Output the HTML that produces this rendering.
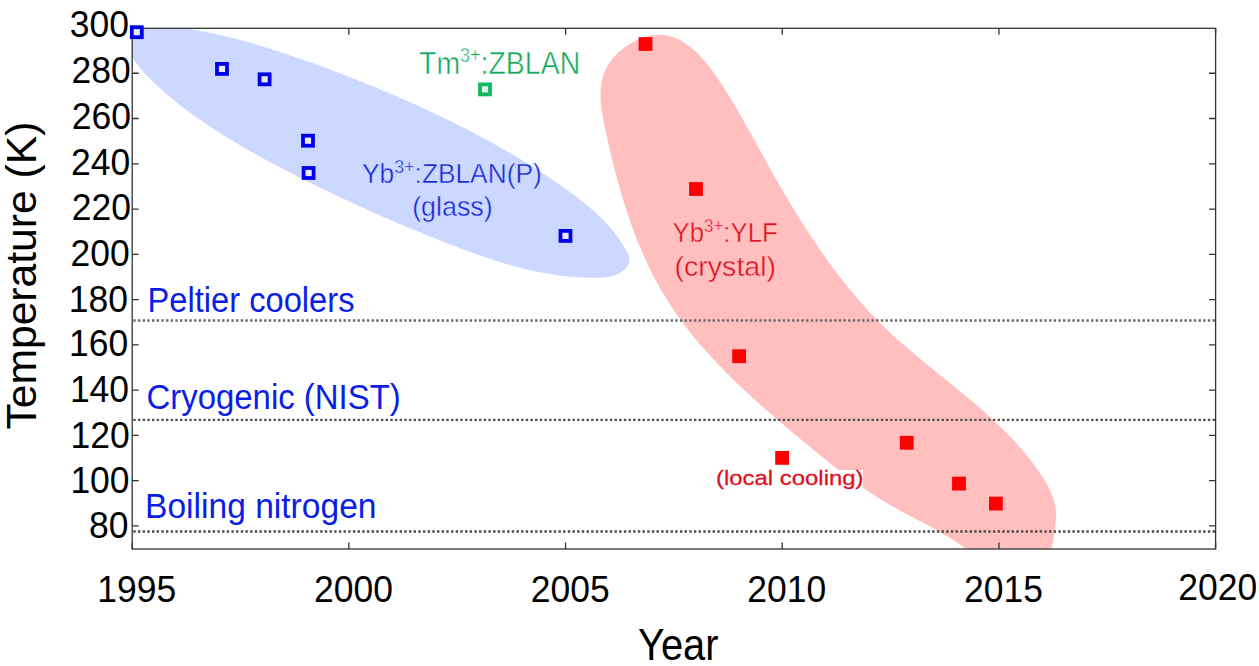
<!DOCTYPE html>
<html><head><meta charset="utf-8"><style>
html,body{margin:0;padding:0;background:#fff;}
svg{display:block;}
text{font-family:"Liberation Sans",sans-serif;}
.tk{font-size:37.3px;fill:#000;}
</style></head><body>
<svg width="1259" height="666" viewBox="0 0 1259 666">
<defs><clipPath id="ax"><rect x="132.2" y="28.3" width="1083.4" height="520.7"/></clipPath></defs>
<g clip-path="url(#ax)">
<path d="M148.7,25.0 L151.7,25.1 L154.8,25.3 L157.8,25.5 L160.9,25.8 L163.9,26.0 L166.9,26.3 L169.9,26.6 L172.9,26.9 L175.9,27.3 L178.8,27.6 L181.8,28.0 L184.7,28.4 L187.7,28.8 L190.6,29.3 L193.5,29.8 L196.4,30.3 L199.4,30.8 L202.2,31.3 L205.1,31.8 L208.0,32.4 L210.9,33.0 L213.7,33.6 L216.6,34.2 L219.5,34.8 L222.3,35.5 L225.1,36.2 L228.0,36.8 L230.8,37.5 L233.6,38.2 L236.4,39.0 L239.2,39.7 L242.0,40.5 L244.8,41.2 L247.6,42.0 L250.4,42.8 L253.2,43.6 L256.0,44.4 L258.7,45.2 L261.5,46.1 L264.3,46.9 L267.0,47.8 L269.8,48.7 L272.6,49.5 L275.3,50.4 L278.1,51.3 L280.8,52.2 L283.6,53.1 L286.3,54.1 L289.1,55.0 L291.8,55.9 L294.6,56.9 L297.3,57.8 L300.1,58.8 L302.8,59.7 L305.6,60.7 L308.3,61.7 L311.0,62.6 L313.8,63.6 L316.5,64.6 L319.3,65.6 L322.0,66.6 L324.7,67.6 L327.5,68.6 L330.2,69.6 L333.0,70.7 L335.7,71.7 L338.4,72.7 L341.2,73.8 L343.9,74.8 L346.6,75.9 L349.3,76.9 L352.1,78.0 L354.8,79.1 L357.5,80.1 L360.2,81.2 L362.9,82.3 L365.6,83.4 L368.4,84.5 L371.1,85.6 L373.8,86.7 L376.5,87.8 L379.2,89.0 L381.9,90.1 L384.6,91.2 L387.3,92.4 L390.0,93.5 L392.7,94.7 L395.4,95.8 L398.0,97.0 L400.7,98.2 L403.4,99.3 L406.1,100.5 L408.8,101.7 L411.4,102.9 L414.1,104.1 L416.8,105.3 L419.4,106.5 L422.1,107.7 L424.7,108.9 L427.4,110.2 L430.0,111.4 L432.7,112.6 L435.3,113.9 L438.0,115.1 L440.6,116.4 L443.2,117.7 L445.9,118.9 L448.5,120.2 L451.1,121.5 L453.7,122.8 L456.3,124.1 L458.9,125.4 L461.5,126.7 L464.1,128.0 L466.7,129.3 L469.3,130.7 L471.9,132.0 L474.5,133.3 L477.1,134.7 L479.6,136.1 L482.2,137.4 L484.8,138.8 L487.3,140.2 L489.9,141.6 L492.4,143.0 L495.0,144.4 L497.5,145.8 L500.0,147.2 L502.6,148.7 L505.1,150.1 L507.6,151.6 L510.1,153.0 L512.6,154.5 L515.1,156.0 L517.6,157.5 L520.1,159.0 L522.6,160.5 L525.1,162.0 L527.6,163.5 L530.0,165.1 L532.5,166.6 L535.0,168.2 L537.4,169.8 L539.9,171.3 L542.3,172.9 L544.7,174.5 L547.2,176.1 L549.6,177.8 L552.0,179.4 L554.4,181.0 L556.8,182.7 L559.2,184.4 L561.6,186.0 L564.0,187.7 L566.4,189.4 L568.7,191.1 L571.1,192.9 L573.5,194.6 L575.8,196.3 L578.1,198.1 L580.4,199.9 L582.7,201.7 L585.0,203.6 L587.3,205.4 L589.5,207.3 L591.7,209.2 L593.9,211.1 L596.1,213.1 L598.2,215.1 L600.3,217.1 L602.4,219.1 L604.4,221.2 L606.4,223.4 L608.4,225.5 L610.3,227.7 L612.2,230.0 L614.1,232.2 L615.9,234.5 L617.6,236.9 L619.4,239.3 L621.0,241.8 L622.7,244.3 L624.2,246.8 L625.8,249.4 L627.2,252.1 L628.5,254.8 L629.4,257.5 L629.7,260.2 L629.2,262.9 L627.9,265.5 L626.1,267.9 L623.9,270.1 L621.6,271.9 L619.2,273.4 L616.6,274.6 L614.0,275.6 L611.2,276.3 L608.4,276.9 L605.5,277.3 L602.6,277.5 L599.6,277.7 L596.7,277.8 L593.7,277.8 L590.7,277.8 L587.8,277.7 L584.8,277.6 L581.9,277.5 L578.9,277.3 L576.0,277.1 L573.1,276.9 L570.2,276.7 L567.3,276.4 L564.3,276.1 L561.4,275.7 L558.6,275.3 L555.7,274.9 L552.8,274.5 L549.9,274.0 L547.1,273.6 L544.2,273.1 L541.3,272.5 L538.5,272.0 L535.6,271.4 L532.8,270.8 L530.0,270.1 L527.1,269.5 L524.3,268.8 L521.5,268.1 L518.7,267.4 L515.9,266.6 L513.1,265.8 L510.3,265.1 L507.5,264.3 L504.7,263.4 L501.9,262.6 L499.1,261.8 L496.3,260.9 L493.6,260.0 L490.8,259.1 L488.0,258.2 L485.3,257.3 L482.5,256.3 L479.7,255.4 L477.0,254.4 L474.2,253.4 L471.5,252.4 L468.8,251.4 L466.0,250.4 L463.3,249.4 L460.5,248.4 L457.8,247.4 L455.1,246.3 L452.4,245.3 L449.6,244.2 L446.9,243.2 L444.2,242.1 L441.5,241.0 L438.8,240.0 L436.1,238.9 L433.4,237.8 L430.6,236.7 L427.9,235.6 L425.2,234.5 L422.5,233.4 L419.8,232.3 L417.1,231.2 L414.5,230.1 L411.8,229.0 L409.1,227.9 L406.4,226.8 L403.7,225.6 L401.0,224.5 L398.3,223.4 L395.6,222.2 L393.0,221.1 L390.3,219.9 L387.6,218.8 L385.0,217.6 L382.3,216.4 L379.6,215.3 L377.0,214.1 L374.3,212.9 L371.6,211.7 L369.0,210.5 L366.3,209.3 L363.7,208.1 L361.0,206.9 L358.3,205.7 L355.7,204.5 L353.1,203.3 L350.4,202.1 L347.8,200.8 L345.1,199.6 L342.5,198.4 L339.8,197.1 L337.2,195.9 L334.6,194.6 L331.9,193.4 L329.3,192.1 L326.7,190.8 L324.1,189.6 L321.4,188.3 L318.8,187.0 L316.2,185.7 L313.6,184.5 L311.0,183.2 L308.3,181.9 L305.7,180.6 L303.1,179.2 L300.5,177.9 L297.9,176.6 L295.3,175.3 L292.7,174.0 L290.1,172.6 L287.5,171.3 L284.9,169.9 L282.3,168.6 L279.7,167.2 L277.1,165.9 L274.5,164.5 L271.9,163.1 L269.3,161.8 L266.8,160.4 L264.2,159.0 L261.6,157.6 L259.1,156.2 L256.5,154.7 L254.0,153.3 L251.4,151.9 L248.9,150.4 L246.3,149.0 L243.8,147.5 L241.3,146.0 L238.8,144.6 L236.3,143.1 L233.8,141.6 L231.3,140.1 L228.8,138.5 L226.3,137.0 L223.8,135.5 L221.4,133.9 L218.9,132.4 L216.5,130.8 L214.0,129.2 L211.6,127.6 L209.2,126.0 L206.8,124.4 L204.4,122.7 L202.0,121.1 L199.6,119.4 L197.2,117.8 L194.8,116.1 L192.5,114.4 L190.2,112.7 L187.8,110.9 L185.5,109.2 L183.2,107.4 L180.9,105.7 L178.6,103.9 L176.4,102.1 L174.1,100.3 L171.9,98.5 L169.6,96.6 L167.4,94.7 L165.2,92.9 L163.0,91.0 L160.9,89.1 L158.7,87.1 L156.6,85.2 L154.4,83.2 L152.4,81.2 L150.3,79.1 L148.3,77.0 L146.2,74.9 L144.3,72.7 L142.3,70.5 L140.4,68.2 L138.5,65.9 L136.7,63.6 L134.9,61.1 L133.2,58.7 L131.5,56.1 L129.9,53.5 L128.5,50.9 L127.3,48.2 L126.3,45.4 L125.6,42.6 L125.3,39.8 L125.4,36.9 L125.9,34.1 L126.8,31.6 L128.1,29.5 L129.8,27.8 L131.9,26.6 L134.2,25.8 L136.8,25.2 L139.6,24.9 L142.6,24.8 L145.6,24.9Z" fill="#ccd8ff"/>
<path d="M657.8,34.8 L661.2,34.9 L664.5,35.1 L667.8,35.7 L671.0,36.5 L674.2,37.6 L677.2,38.8 L680.3,40.3 L683.2,42.0 L686.1,43.9 L689.0,45.9 L691.8,48.2 L694.5,50.6 L697.2,53.1 L699.8,55.8 L702.4,58.5 L705.0,61.5 L707.4,64.5 L709.9,67.5 L712.3,70.7 L714.6,74.0 L716.9,77.2 L719.2,80.6 L721.4,83.9 L723.6,87.3 L725.7,90.7 L727.8,94.1 L729.9,97.5 L731.9,100.8 L733.9,104.2 L735.9,107.5 L737.8,110.8 L739.7,114.0 L741.6,117.3 L743.4,120.5 L745.2,123.7 L747.1,127.0 L748.8,130.2 L750.6,133.3 L752.4,136.5 L754.1,139.7 L755.9,142.8 L757.6,146.0 L759.4,149.2 L761.1,152.3 L762.8,155.4 L764.6,158.6 L766.3,161.7 L768.0,164.9 L769.8,168.0 L771.5,171.2 L773.3,174.3 L775.1,177.5 L776.9,180.6 L778.7,183.8 L780.5,187.0 L782.3,190.1 L784.2,193.3 L786.1,196.4 L787.9,199.6 L789.8,202.8 L791.7,205.9 L793.6,209.1 L795.6,212.2 L797.5,215.4 L799.4,218.5 L801.4,221.7 L803.4,224.8 L805.4,228.0 L807.4,231.1 L809.5,234.2 L811.5,237.3 L813.6,240.4 L815.7,243.5 L817.8,246.6 L819.9,249.7 L822.0,252.8 L824.2,255.8 L826.3,258.9 L828.5,261.9 L830.7,264.9 L833.0,267.9 L835.2,270.9 L837.5,273.9 L839.8,276.9 L842.1,279.8 L844.4,282.8 L846.7,285.7 L849.1,288.6 L851.5,291.5 L853.9,294.3 L856.3,297.2 L858.7,300.0 L861.2,302.8 L863.7,305.6 L866.2,308.4 L868.7,311.2 L871.3,313.9 L873.9,316.6 L876.5,319.3 L879.1,321.9 L881.7,324.6 L884.4,327.2 L887.1,329.7 L889.8,332.3 L892.6,334.9 L895.3,337.4 L898.1,339.9 L900.9,342.4 L903.7,344.8 L906.5,347.3 L909.3,349.7 L912.2,352.1 L915.0,354.5 L917.9,356.9 L920.8,359.3 L923.6,361.7 L926.5,364.1 L929.4,366.5 L932.3,368.8 L935.2,371.2 L938.1,373.5 L941.0,375.9 L943.9,378.2 L946.8,380.5 L949.7,382.9 L952.6,385.2 L955.5,387.6 L958.4,389.9 L961.3,392.3 L964.1,394.7 L967.0,397.0 L969.8,399.4 L972.7,401.8 L975.5,404.2 L978.3,406.6 L981.1,409.1 L983.9,411.5 L986.6,414.0 L989.4,416.4 L992.1,418.9 L994.8,421.4 L997.5,424.0 L1000.1,426.5 L1002.7,429.1 L1005.3,431.7 L1007.9,434.3 L1010.5,436.9 L1013.0,439.6 L1015.5,442.3 L1017.9,445.0 L1020.4,447.8 L1022.8,450.6 L1025.1,453.4 L1027.4,456.2 L1029.7,459.1 L1032.0,462.0 L1034.2,465.0 L1036.3,468.0 L1038.5,471.0 L1040.5,474.1 L1042.6,477.2 L1044.6,480.3 L1046.5,483.5 L1048.3,486.8 L1049.9,490.1 L1051.4,493.5 L1052.8,496.9 L1053.9,500.4 L1054.9,504.0 L1055.6,507.6 L1056.0,511.3 L1056.2,515.1 L1056.1,519.0 L1055.8,522.8 L1055.4,526.7 L1054.9,530.7 L1054.2,534.6 L1053.5,538.4 L1052.8,542.3 L1052.0,546.0 L1051.2,549.7 L1050.2,553.2 L1049.1,556.6 L1047.7,559.8 L1046.0,562.7 L1043.9,565.3 L1041.5,567.7 L1038.8,569.7 L1035.8,571.5 L1032.6,573.0 L1029.1,574.2 L1025.6,575.1 L1021.9,575.7 L1018.2,576.1 L1014.4,576.1 L1010.7,575.9 L1007.0,575.4 L1003.4,574.6 L1000.0,573.6 L996.7,572.2 L993.6,570.7 L990.6,568.9 L987.7,566.9 L984.9,564.8 L982.2,562.6 L979.5,560.3 L976.8,558.0 L974.1,555.7 L971.4,553.3 L968.6,551.0 L965.8,548.8 L962.9,546.6 L960.0,544.5 L957.0,542.5 L953.9,540.4 L950.9,538.5 L947.8,536.6 L944.6,534.7 L941.5,532.8 L938.3,531.0 L935.0,529.2 L931.8,527.4 L928.5,525.6 L925.3,523.9 L922.0,522.1 L918.7,520.4 L915.4,518.7 L912.1,516.9 L908.8,515.2 L905.5,513.4 L902.2,511.7 L898.9,509.9 L895.7,508.1 L892.4,506.3 L889.2,504.5 L886.1,502.6 L882.9,500.7 L879.8,498.8 L876.6,496.8 L873.5,494.8 L870.5,492.8 L867.4,490.8 L864.4,488.7 L861.4,486.6 L858.4,484.5 L855.4,482.4 L852.4,480.2 L849.4,478.1 L846.5,475.9 L843.6,473.7 L840.6,471.5 L837.7,469.2 L834.8,467.0 L831.9,464.7 L829.1,462.4 L826.2,460.1 L823.3,457.8 L820.4,455.5 L817.6,453.2 L814.7,450.8 L811.9,448.5 L809.0,446.1 L806.1,443.8 L803.3,441.4 L800.4,439.0 L797.6,436.6 L794.7,434.2 L791.8,431.8 L789.0,429.4 L786.1,427.0 L783.3,424.6 L780.4,422.1 L777.6,419.7 L774.7,417.3 L771.9,414.8 L769.0,412.3 L766.2,409.9 L763.4,407.4 L760.6,404.9 L757.8,402.4 L755.0,399.9 L752.2,397.4 L749.4,394.8 L746.7,392.3 L743.9,389.7 L741.2,387.2 L738.5,384.6 L735.8,382.0 L733.1,379.4 L730.4,376.8 L727.8,374.1 L725.1,371.5 L722.5,368.8 L719.9,366.1 L717.3,363.4 L714.8,360.7 L712.2,358.0 L709.7,355.3 L707.2,352.5 L704.8,349.8 L702.3,347.0 L699.9,344.2 L697.5,341.4 L695.1,338.5 L692.8,335.7 L690.5,332.8 L688.2,329.9 L685.9,327.0 L683.7,324.1 L681.5,321.2 L679.4,318.2 L677.2,315.2 L675.1,312.2 L673.1,309.2 L671.1,306.2 L669.1,303.1 L667.1,300.0 L665.2,296.9 L663.3,293.8 L661.4,290.7 L659.6,287.5 L657.9,284.3 L656.1,281.1 L654.4,277.9 L652.7,274.6 L651.1,271.4 L649.4,268.1 L647.9,264.8 L646.3,261.5 L644.8,258.1 L643.3,254.8 L641.8,251.4 L640.4,248.0 L639.0,244.6 L637.6,241.2 L636.2,237.8 L634.9,234.3 L633.6,230.9 L632.3,227.4 L631.1,223.9 L629.8,220.4 L628.6,216.8 L627.4,213.3 L626.3,209.7 L625.1,206.2 L624.0,202.6 L622.9,199.0 L621.8,195.4 L620.7,191.8 L619.7,188.1 L618.7,184.5 L617.7,180.8 L616.7,177.2 L615.7,173.5 L614.7,169.8 L613.8,166.1 L612.8,162.4 L611.9,158.7 L611.0,154.9 L610.1,151.2 L609.2,147.4 L608.4,143.7 L607.5,139.9 L606.7,136.1 L605.8,132.4 L605.0,128.6 L604.2,124.8 L603.5,121.0 L602.8,117.2 L602.1,113.4 L601.6,109.7 L601.2,106.0 L600.8,102.3 L600.6,98.6 L600.5,95.0 L600.6,91.4 L600.9,87.8 L601.3,84.3 L601.9,80.9 L602.7,77.5 L603.7,74.1 L605.0,70.9 L606.5,67.7 L608.3,64.6 L610.3,61.6 L612.6,58.6 L615.0,55.8 L617.7,53.1 L620.6,50.6 L623.6,48.1 L626.7,45.9 L630.0,43.8 L633.3,41.9 L636.8,40.2 L640.3,38.7 L643.8,37.4 L647.3,36.4 L650.9,35.6 L654.4,35.1Z" fill="#ffbfbf"/>
<rect x="716" y="470" width="147" height="21" fill="#fff"/>
</g>
<g stroke-width="2.3" stroke-dasharray="2.4 2.272" fill="none"><path stroke="#6a6a6a" d="M133.30,320.5H1215.6"/><path stroke="#505050" d="M133.30,419.9H1215.6"/><path stroke="#4a4a4a" d="M133.30,531.5H1215.6"/></g>
<rect x="132.2" y="28.3" width="1083.4" height="520.7" fill="none" stroke="#333" stroke-width="1.3"/>
<path d="M132.20,549.00V542.50 M132.20,28.30V34.80 M348.88,549.00V542.50 M348.88,28.30V34.80 M565.56,549.00V542.50 M565.56,28.30V34.80 M782.24,549.00V542.50 M782.24,28.30V34.80 M998.92,549.00V542.50 M998.92,28.30V34.80 M1215.60,549.00V542.50 M1215.60,28.30V34.80 M132.20,525.86H138.70 M1215.60,525.86H1209.10 M132.20,480.60H138.70 M1215.60,480.60H1209.10 M132.20,435.34H138.70 M1215.60,435.34H1209.10 M132.20,390.08H138.70 M1215.60,390.08H1209.10 M132.20,344.82H138.70 M1215.60,344.82H1209.10 M132.20,299.56H138.70 M1215.60,299.56H1209.10 M132.20,254.30H138.70 M1215.60,254.30H1209.10 M132.20,209.04H138.70 M1215.60,209.04H1209.10 M132.20,163.78H138.70 M1215.60,163.78H1209.10 M132.20,118.52H138.70 M1215.60,118.52H1209.10 M132.20,73.26H138.70 M1215.60,73.26H1209.10" stroke="#333" stroke-width="1.3" fill="none"/>
<rect x="131.80" y="27.20" width="10.00" height="10.00" fill="#e8eaf8" stroke="#0000ee" stroke-width="3.8"/><rect x="217.00" y="63.90" width="10.00" height="10.00" fill="#e8eaf8" stroke="#0000ee" stroke-width="3.8"/><rect x="259.60" y="74.30" width="10.00" height="10.00" fill="#e8eaf8" stroke="#0000ee" stroke-width="3.8"/><rect x="303.00" y="135.70" width="10.00" height="10.00" fill="#e8eaf8" stroke="#0000ee" stroke-width="3.8"/><rect x="303.60" y="168.00" width="10.00" height="10.00" fill="#e8eaf8" stroke="#0000ee" stroke-width="3.8"/><rect x="560.50" y="230.90" width="10.00" height="10.00" fill="#e8eaf8" stroke="#0000ee" stroke-width="3.8"/>
<rect x="480.00" y="84.40" width="10.00" height="10.00" fill="#e8eaf8" stroke="#10b860" stroke-width="3.8"/>
<rect x="638.60" y="37.10" width="13.80" height="13.80" fill="#ff0000"/><rect x="689.10" y="182.10" width="13.80" height="13.80" fill="#ff0000"/><rect x="732.20" y="349.30" width="13.80" height="13.80" fill="#ff0000"/><rect x="775.20" y="451.00" width="13.80" height="13.80" fill="#ff0000"/><rect x="899.80" y="435.90" width="13.80" height="13.80" fill="#ff0000"/><rect x="952.10" y="476.70" width="13.80" height="13.80" fill="#ff0000"/><rect x="989.00" y="496.70" width="13.80" height="13.80" fill="#ff0000"/>
<g class="tk"><text x="136.8" y="602.3" text-anchor="middle" textLength="78.9" lengthAdjust="spacingAndGlyphs">1995</text><text x="353.5" y="602.3" text-anchor="middle" textLength="78.9" lengthAdjust="spacingAndGlyphs">2000</text><text x="570.2" y="602.3" text-anchor="middle" textLength="78.9" lengthAdjust="spacingAndGlyphs">2005</text><text x="786.8" y="602.3" text-anchor="middle" textLength="78.9" lengthAdjust="spacingAndGlyphs">2010</text><text x="1003.5" y="602.3" text-anchor="middle" textLength="78.9" lengthAdjust="spacingAndGlyphs">2015</text><text x="1217.7" y="600.3" text-anchor="middle" textLength="78.9" lengthAdjust="spacingAndGlyphs">2020</text><text x="129.0" y="36.9" text-anchor="end" textLength="59.2" lengthAdjust="spacingAndGlyphs">300</text><text x="130.7" y="83.4" text-anchor="end" textLength="59.2" lengthAdjust="spacingAndGlyphs">280</text><text x="130.9" y="129.2" text-anchor="end" textLength="59.2" lengthAdjust="spacingAndGlyphs">260</text><text x="130.3" y="175.2" text-anchor="end" textLength="59.2" lengthAdjust="spacingAndGlyphs">240</text><text x="130.9" y="219.5" text-anchor="end" textLength="59.2" lengthAdjust="spacingAndGlyphs">220</text><text x="129.7" y="265.5" text-anchor="end" textLength="59.2" lengthAdjust="spacingAndGlyphs">200</text><text x="127.9" y="311.5" text-anchor="end" textLength="59.2" lengthAdjust="spacingAndGlyphs">180</text><text x="128.3" y="355.5" text-anchor="end" textLength="59.2" lengthAdjust="spacingAndGlyphs">160</text><text x="129.1" y="401.6" text-anchor="end" textLength="59.2" lengthAdjust="spacingAndGlyphs">140</text><text x="129.7" y="447.9" text-anchor="end" textLength="59.2" lengthAdjust="spacingAndGlyphs">120</text><text x="129.6" y="493.2" text-anchor="end" textLength="59.2" lengthAdjust="spacingAndGlyphs">100</text><text x="128.5" y="537.7" text-anchor="end" textLength="39.5" lengthAdjust="spacingAndGlyphs">80</text></g>
<text x="638" y="659.7" textLength="80.5" lengthAdjust="spacingAndGlyphs" style="font-size:43.9px">Year</text>
<text transform="translate(36,429.6) rotate(-90)" textLength="308" lengthAdjust="spacingAndGlyphs" style="font-size:43.2px">Temperature (K)</text>
<g style="font-size:34.8px" fill="#0a1ee6">
<text x="147.5" y="312" textLength="207" lengthAdjust="spacingAndGlyphs">Peltier coolers</text>
<text x="146.5" y="409" textLength="254.2" lengthAdjust="spacingAndGlyphs">Cryogenic (NIST)</text>
<text x="145" y="518" textLength="231.5" lengthAdjust="spacingAndGlyphs">Boiling nitrogen</text>
</g>
<g fill="#1428dc">
<text x="362" y="182.5" stroke="#ccd8ff" stroke-width="0.45" style="font-size:27.3px" textLength="179.7" lengthAdjust="spacingAndGlyphs">Yb<tspan dy="-10" style="font-size:18.6px">3+</tspan><tspan dy="10">:ZBLAN(P)</tspan></text>
<text x="412.2" y="216" stroke="#ccd8ff" stroke-width="0.45" style="font-size:27.3px" textLength="80.5" lengthAdjust="spacingAndGlyphs">(glass)</text>
</g>
<text x="419" y="74.3" stroke="#fff" stroke-width="0.45" style="font-size:30.7px" fill="#16a85a" textLength="161.2" lengthAdjust="spacingAndGlyphs">Tm<tspan dy="-12" style="font-size:19.4px">3+</tspan><tspan dy="12">:ZBLAN</tspan></text>
<g fill="#e0101e">
<text x="672.5" y="242.4" stroke="#ffbfbf" stroke-width="0.45" style="font-size:28.2px" textLength="105.2" lengthAdjust="spacingAndGlyphs">Yb<tspan dy="-10" style="font-size:18.6px">3+</tspan><tspan dy="10">:YLF</tspan></text>
<text x="674.5" y="276.3" stroke="#ffbfbf" stroke-width="0.45" style="font-size:28.2px" textLength="101.6" lengthAdjust="spacingAndGlyphs">(crystal)</text>
<text x="716" y="484.8" stroke="#e0101e" stroke-width="0.3" style="font-size:21.1px" textLength="147.5" lengthAdjust="spacingAndGlyphs">(local cooling)</text>
</g>
</svg>
</body></html>
